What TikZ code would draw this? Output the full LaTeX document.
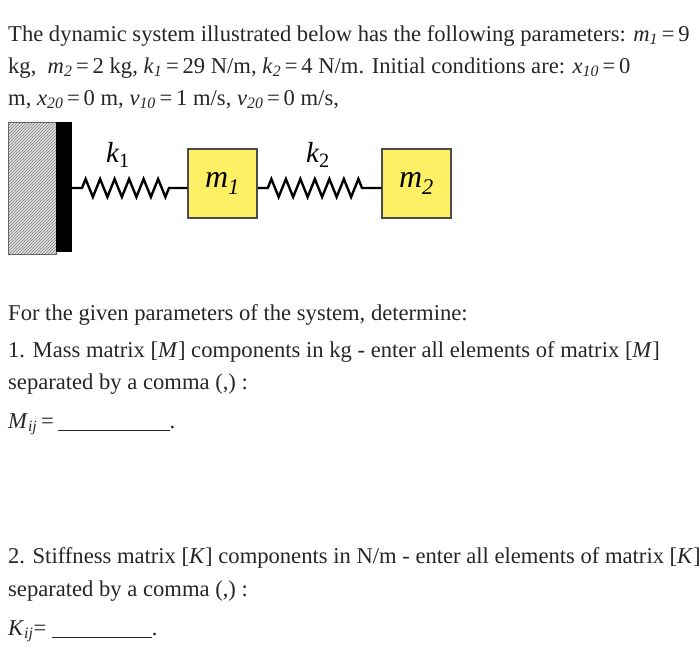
\documentclass[tikz,border=0pt]{standalone}
\usepackage{fontspec}
\setmainfont{Liberation Serif}
\usetikzlibrary{decorations.pathmorphing,patterns}
\newcommand{\vv}[2]{\textit{#1}\textsubscript{\textit{#2}}}
\begin{document}
\begin{tikzpicture}[x=1pt,y=-1pt,
  txt/.style={anchor=base west,inner sep=0pt,font=\fontsize{22.6}{25}\selectfont,text=black!85},
  mass/.style={draw=black!70,line width=1.5pt,fill=yellow!90!orange!60,minimum width=69pt,minimum height=69pt,inner sep=0pt,font=\fontsize{32}{34}\selectfont\itshape},
  spring/.style={line width=2.4pt,decorate,decoration={zigzag,segment length=14.5pt,amplitude=9pt,pre length=10pt,post length=18pt}}]
\useasboundingbox (0,0) rectangle (700,653);
\node[txt] (l1) at (8,41) {The dynamic system illustrated below has the following parameters: \vv{m}{1}\,=\,9};
\node[txt] (l2) at (8,73) {kg, \ \vv{m}{2}\,=\,2 kg, \vv{k}{1}\,=\,29 N/m, \vv{k}{2}\,=\,4 N/m. Initial conditions are: \vv{x}{10}\,=\,0};
\node[txt] (l3) at (8,105) {m, \vv{x}{20}\,=\,0 m, \vv{v}{10}\,=\,1 m/s, \vv{v}{20}\,=\,0 m/s,};
% wall
\fill[black!12] (8,122) rectangle (56,254);
\draw[draw=black!60,pattern=north east lines,pattern color=black!50] (8,122) rectangle (56,254);
\fill[black] (56,122) rectangle (72,252);
\coordinate (w) at (72,188);
\node[mass] (m1) at (222.5,183.5) {m\textsubscript{1}};
\node[mass] (m2) at (416.5,183.5) {m\textsubscript{2}};
\draw[spring] (w) -- (w -| m1.west);
\draw[spring] (m1.east |- w) -- (m2.west |- w);
\node[font=\fontsize{29}{31}\selectfont\itshape] (k1) at (118,155) {k\textsubscript{\upshape 1}};
\node[font=\fontsize{29}{31}\selectfont\itshape] (k2) at (318,155) {k\textsubscript{\upshape 2}};
\node[txt] (p1) at (8,320) {For the given parameters of the system, determine:};
\node[txt] (p2) at (8,357) {1. Mass matrix [\textit{M}] components in kg - enter all elements of matrix [\textit{M}]};
\node[txt] (p3) at (8,389) {separated by a comma (,) :};
\node[txt] (p4) at (8,428) {\vv{M}{ij}\,=\,\rule[-2pt]{112pt}{0.5pt}.};
\node[txt] (q1) at (8,563) {2. Stiffness matrix [\textit{K}] components in N/m - enter all elements of matrix [\textit{K}]};
\node[txt] (q2) at (8,596) {separated by a comma (,) :};
\node[txt] (q3) at (8,635) {\vv{K}{ij}=\ \rule[-2pt]{100pt}{0.5pt}.};
\end{tikzpicture}
\end{document}
